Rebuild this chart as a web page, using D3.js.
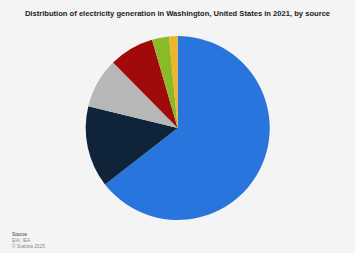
<!DOCTYPE html>
<html>
<head>
  <meta charset="utf-8">
  <style>
    body { margin: 0; background: #f4f4f4; }
    svg { display: block; background: #f4f4f4; }
  </style>
</head>
<body>
  <div id="chart"></div>
  <script src="https://d3js.org/d3.v7.min.js"></script>
  <script>
    // shares, clockwise from 12 o'clock
    var sources = ["Hydroelectric", "Natural gas", "Nuclear", "Coal", "Wind", "Other"];
    var shares = [64.5, 14.3, 8.8, 7.9, 3.0, 1.5];
    var colors = ["#2876dd", "#0f2339", "#b7b7b7", "#a10a0a", "#8aba27", "#f0b429"];

    var width = 355, height = 253;
    var svg = d3.select("#chart").append("svg")
        .attr("width", width)
        .attr("height", height);

    svg.append("text")
        .attr("x", 177.5)
        .attr("y", 15.5)
        .attr("text-anchor", "middle")
        .style("font-family", "Liberation Sans, Arial, sans-serif")
        .style("font-size", "7.6px")
        .style("font-weight", "bold")
        .style("fill", "#222")
        .text("Distribution of electricity generation in Washington, United States in 2021, by source");

    var data = sources.map((s, i) => ({source: s, value: shares[i], color: colors[i]}));

    var pie = d3.pie().sort(null).value(d => d.value);
    var arc = d3.arc().innerRadius(0).outerRadius(92);

    var g = svg.append("g")
        .attr("transform", "translate(177.7,128)");

    g.selectAll("path")
        .data(pie(data))
        .enter()
        .append("path")
        .attr("d", arc)
        .attr("fill", d => d.data.color);

    var foot = svg.append("g")
        .style("font-family", "Liberation Sans, Arial, sans-serif")
        .style("font-size", "4.8px");
    foot.append("text").attr("x", 12).attr("y", 236).style("fill", "#333").text("Source");
    foot.append("text").attr("x", 12).attr("y", 242).style("fill", "#888").text("EIA; IEA");
    foot.append("text").attr("x", 12).attr("y", 248).style("fill", "#888").text("© Statista 2025");
  </script>
</body>
</html>
